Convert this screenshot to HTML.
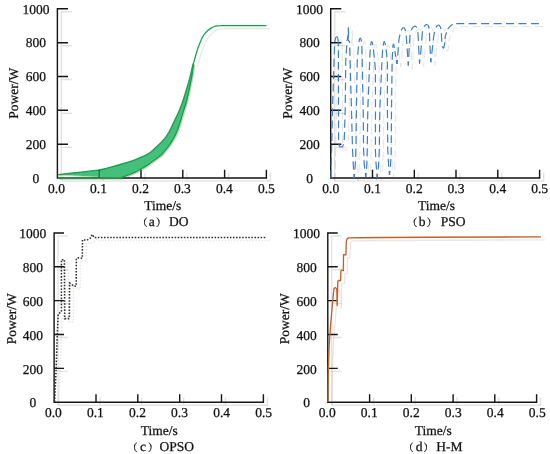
<!DOCTYPE html>
<html lang="zh">
<head>
<meta charset="utf-8">
<title>Power curves: DO, PSO, OPSO, H-M</title>
<style>
html,body{margin:0;padding:0;background:#fff;}
body{width:550px;height:454px;overflow:hidden;}
svg{display:block;}
svg text{font-family:"Liberation Serif", "Noto Serif CJK SC", serif;font-size:13.5px;fill:#111;text-rendering:geometricPrecision;stroke:#111;stroke-width:0.25px;}
</style>
</head>
<body>
<svg width="550" height="454" viewBox="0 0 550 454">
<defs>
<filter id="sh" x="-5%" y="-5%" width="112%" height="112%" filterUnits="objectBoundingBox">
<feGaussianBlur in="SourceAlpha" stdDeviation="0.45" result="b"/>
<feOffset in="b" dx="3.7" dy="2.6" result="o"/>
<feComponentTransfer in="o" result="s"><feFuncA type="linear" slope="0.14"/></feComponentTransfer>
<feFlood flood-color="#3c3834" result="c"/>
<feComposite in="c" in2="s" operator="in" result="sc"/>
<feMerge><feMergeNode in="sc"/><feMergeNode in="SourceGraphic"/></feMerge>
</filter>
<filter id="shc" x="-5%" y="-5%" width="112%" height="112%" filterUnits="objectBoundingBox">
<feGaussianBlur in="SourceAlpha" stdDeviation="0.5" result="b"/>
<feOffset in="b" dx="3.5" dy="3.1" result="o"/>
<feComponentTransfer in="o" result="s"><feFuncA type="linear" slope="0.13"/></feComponentTransfer>
<feFlood flood-color="#5a4838" result="c"/>
<feComposite in="c" in2="s" operator="in" result="sc"/>
<feMerge><feMergeNode in="sc"/><feMergeNode in="SourceGraphic"/></feMerge>
</filter>
<filter id="sh2" x="-5%" y="-5%" width="112%" height="112%" filterUnits="objectBoundingBox">
<feGaussianBlur in="SourceAlpha" stdDeviation="0.4" result="b"/>
<feOffset in="b" dx="1.3" dy="1" result="o"/>
<feComponentTransfer in="o" result="s"><feFuncA type="linear" slope="0.28"/></feComponentTransfer>
<feFlood flood-color="#7a3a3a" result="c"/>
<feComposite in="c" in2="s" operator="in" result="sc"/>
<feMerge><feMergeNode in="sc"/><feMergeNode in="SourceGraphic"/></feMerge>
</filter>
</defs>
<rect width="550" height="454" fill="#fff"/>
<g filter="url(#sh)"><path d="M68 8.8 H57.4 V178 H266.4 M57.4 144.2 h10.6 M57.4 110.3 h10.6 M57.4 76.5 h10.6 M57.4 42.7 h10.6 M99.2 178 v-8.2 M141 178 v-8.2 M182.8 178 v-8.2 M224.6 178 v-8.2 M266.4 178.7 v-8.9" fill="none" stroke="#121212" stroke-width="1.4"/></g>
<g filter="url(#shc)"><path d="M193.3 64.2 C193.8 62.3 195.4 56.4 196.4 53 C197.4 49.6 198.5 46.5 199.5 44 C200.5 41.5 201.3 39.5 202.2 37.8 C203.1 36.1 203.9 34.8 204.8 33.6 C205.8 32.4 206.9 31.4 207.9 30.5 C208.9 29.6 209.9 28.8 211 28.1 C212.1 27.4 213.4 26.9 214.5 26.5 C215.6 26.1 216.5 26 217.5 25.8 C218.5 25.6 219.4 25.6 220.5 25.6 C221.6 25.5 222.4 25.5 224 25.5 C225.6 25.5 222.9 25.5 230 25.5 C237.1 25.5 260.4 25.5 266.5 25.5" fill="none" stroke="#14a44b" stroke-width="1.25"/></g>
<g filter="url(#sh2)"><path d="M58.3 174.6 C60.8 174.3 67.7 173.6 73.2 173 C78.7 172.4 87 171.4 91.4 170.9 C95.8 170.4 97.2 170.3 99.5 170 C101.8 169.7 103.1 169.3 105 168.8 C106.9 168.3 108.2 168 111 167.2 C113.8 166.4 118.8 164.9 122 164 C125.2 163.1 127.6 162.4 130 161.6 C132.4 160.8 134.2 160.1 136.2 159.3 C138.1 158.5 139.8 157.8 141.7 157 C143.5 156.2 145.7 155.2 147.3 154.3 C148.9 153.4 150 152.7 151.5 151.5 C153 150.3 154.7 148.7 156.4 147.1 C158.1 145.5 160.3 143.3 161.9 141.7 C163.5 140 164.6 138.9 165.8 137.2 C167 135.5 168.2 133.5 169.3 131.5 C170.4 129.5 171.4 127.4 172.4 125.2 C173.4 123 174.5 120.8 175.6 118.6 C176.7 116.4 177.7 114.5 178.8 111.8 C179.9 109.1 181.2 106 182.4 102.4 C183.7 98.8 185.1 94.3 186.3 90.2 C187.6 86.1 188.9 81.4 189.9 77.7 C190.9 74 191.6 70.3 192.2 68 C192.8 65.7 193 64.7 193.2 64 L193.5 64.5 C193.4 65.2 193.3 66.4 193 68.5 C192.7 70.6 192.3 73.8 191.7 77.3 C191 80.8 190 85.6 189.1 89.8 C188.2 94 187.2 98.6 186.2 102.3 C185.2 106 183.9 109.5 183.1 112.2 C182.3 114.9 181.8 116.5 181.2 118.7 C180.5 120.9 179.9 123.1 179.2 125.2 C178.5 127.3 177.8 129.2 177 131.2 C176.2 133.2 175.4 135.1 174.3 137.2 C173.2 139.2 171.7 141.6 170.4 143.5 C169.1 145.4 167.9 147.2 166.5 148.9 C165.1 150.6 163.8 152.4 162.2 153.9 C160.6 155.4 158.7 156.9 157 158.2 C155.3 159.5 153.8 160.6 152.1 161.8 C150.4 163.1 148.5 164.5 146.7 165.7 C144.9 166.9 143.2 167.8 141.2 168.9 C139.2 170 136.6 171.5 134.7 172.4 C132.8 173.3 132.2 173.5 129.8 174.4 C127.4 175.3 121.6 177.4 120 178 Z" fill="#46bf7c" stroke="none"/><path d="M58.3 174.6 C60.8 174.3 67.7 173.6 73.2 173 C78.7 172.4 87 171.4 91.4 170.9 C95.8 170.4 97.2 170.3 99.5 170 C101.8 169.7 103.1 169.3 105 168.8 C106.9 168.3 108.2 168 111 167.2 C113.8 166.4 118.8 164.9 122 164 C125.2 163.1 127.6 162.4 130 161.6 C132.4 160.8 134.2 160.1 136.2 159.3 C138.1 158.5 139.8 157.8 141.7 157 C143.5 156.2 145.7 155.2 147.3 154.3 C148.9 153.4 150 152.7 151.5 151.5 C153 150.3 154.7 148.7 156.4 147.1 C158.1 145.5 160.3 143.3 161.9 141.7 C163.5 140 164.6 138.9 165.8 137.2 C167 135.5 168.2 133.5 169.3 131.5 C170.4 129.5 171.4 127.4 172.4 125.2 C173.4 123 174.5 120.8 175.6 118.6 C176.7 116.4 177.7 114.5 178.8 111.8 C179.9 109.1 181.2 106 182.4 102.4 C183.7 98.8 185.1 94.3 186.3 90.2 C187.6 86.1 188.9 81.4 189.9 77.7 C190.9 74 191.6 70.3 192.2 68 C192.8 65.7 193 64.7 193.2 64" fill="none" stroke="#14a44b" stroke-width="1.4" stroke-linecap="round"/><path d="M58.3 178 H120" fill="none" stroke="#14a44b" stroke-width="1.5" stroke-linecap="round"/><path d="M120 178 C121.6 177.4 127.4 175.3 129.8 174.4 C132.2 173.5 132.8 173.3 134.7 172.4 C136.6 171.5 139.2 170 141.2 168.9 C143.2 167.8 144.9 166.9 146.7 165.7 C148.5 164.5 150.4 163.1 152.1 161.8 C153.8 160.6 155.3 159.5 157 158.2 C158.7 156.9 160.6 155.4 162.2 153.9 C163.8 152.4 165.1 150.6 166.5 148.9 C167.9 147.2 169.1 145.4 170.4 143.5 C171.7 141.6 173.2 139.2 174.3 137.2 C175.4 135.1 176.2 133.2 177 131.2 C177.8 129.2 178.5 127.3 179.2 125.2 C179.9 123.1 180.5 120.9 181.2 118.7 C181.8 116.5 182.3 114.9 183.1 112.2 C183.9 109.5 185.2 106 186.2 102.3 C187.2 98.6 188.2 94 189.1 89.8 C190 85.6 191 80.8 191.7 77.3 C192.3 73.8 192.7 70.6 193 68.5 C193.3 66.4 193.4 65.2 193.5 64.5" fill="none" stroke="#14a44b" stroke-width="1.4" stroke-linecap="round"/><path d="M99.2 178 v-8" stroke="#15703a" stroke-width="1.2" fill="none"/></g>
<text x="35.9" y="182.6" text-anchor="middle">0</text>
<text x="35.9" y="148.8" text-anchor="middle">200</text>
<text x="35.9" y="114.9" text-anchor="middle">400</text>
<text x="35.9" y="81.1" text-anchor="middle">600</text>
<text x="35.9" y="47.3" text-anchor="middle">800</text>
<text x="35.9" y="13.5" text-anchor="middle">1000</text>
<text x="56.5" y="193" text-anchor="middle">0.0</text>
<text x="98.5" y="193" text-anchor="middle">0.1</text>
<text x="140.5" y="193" text-anchor="middle">0.2</text>
<text x="182.4" y="193" text-anchor="middle">0.3</text>
<text x="224.4" y="193" text-anchor="middle">0.4</text>
<text x="266.4" y="193" text-anchor="middle">0.5</text>
<text x="162.8" y="209.7" text-anchor="middle">Time/s</text>
<text transform="translate(17.8 93.2) rotate(-90)" text-anchor="middle" >Power/W</text>
<text y="225.5"><tspan x="147.4" text-anchor="end" font-size="10">（</tspan><tspan x="148.8">a</tspan><tspan x="156" font-size="10">）</tspan><tspan x="169">DO</tspan></text>
<g filter="url(#sh)"><path d="M341.3 8.8 H330.7 V178 H539.6 M330.7 144.2 h10.6 M330.7 110.3 h10.6 M330.7 76.5 h10.6 M330.7 42.7 h10.6 M372.5 178 v-8.2 M414.3 178 v-8.2 M456 178 v-8.2 M497.8 178 v-8.2 M539.6 178.7 v-8.9" fill="none" stroke="#121212" stroke-width="1.4"/></g><g filter="url(#shc)" fill="none" stroke="#3d80c4" stroke-width="1.2" stroke-linejoin="round"><polyline points="330.9,178 332.8,100 334.4,50 334.6,45.2 334.7,44.1 334.8,43 334.9,42.1 335,41.1 335.1,40.3 335.2,39.6 335.4,38.9 335.5,38.4 335.5,38.4 335.7,37.9 335.9,37.5 336.1,37.1 336.3,36.9" stroke-dasharray="8.1 4.26 8.09 4.26 8.09 4.26 8.09 4.26 8.09 4.26 8.09 4.26 8.09 4.26 8.09 4.26 8.09 4.26 8.09 4.26 8.09 4.26 5.5 999"/><polyline points="336.3,36.9 336.5,36.8 336.7,36.7 336.9,36.8 337.1,36.9 337.1,36.9 337.3,37.1 337.5,37.5 337.7,38.1 337.8,38.7 338,39.5 338.1,40.5 338.1,41.6 338.2,42.8 338.4,48 338.5,100 338.6,143 339,144.7 339,145 339.2,145.4 339.3,145.7 339.4,146 339.6,146.2 339.8,146.4 339.9,146.6 340.1,146.8 340.1,146.8 340.4,146.8 340.6,146.9 340.8,147 341,147" stroke-dasharray="10.5 4.04 7.67 4.04 7.67 4.04 7.67 4.04 7.67 4.04 7.67 4.04 7.67 4.04 7.67 4.04 7.67 4.04 4.06 999"/><polyline points="341,147 341.2,147 341.5,146.9 341.7,146.8 341.9,146.8 341.9,146.8 342.1,146.6 342.3,146.4 342.5,146.2 342.8,145.9 342.9,145.5 343.1,145.1 343.3,144.7 343.5,144.2 344.2,142 345.2,110 345.8,60 347,41 348.4,34 348.4,27.6" stroke-dasharray="4.06 4.27 8.11 4.27 8.11 4.27 8.11 4.27 8.11 4.27 8.11 4.27 8.11 4.27 8.11 4.27 8.11 4.27 13.5 999"/><polyline points="348.4,27.6 348.6,34 348,39.6 349.5,41.8 350.1,60 351.5,110 352.4,146 353.1,162 354.2,178" stroke-dasharray="16 4.37 8.29 4.37 8.29 4.37 8.29 4.37 8.29 4.37 8.29 4.37 8.29 4.37 8.29 4.37 8.29 4.37 8.29 4.37 8.29 4.37 4.06 999"/><polyline points="354.2,178 355.4,163 356,146 356.4,110 357.2,62 357.9,53 358.1,50.8 358.3,48.8 358.4,47 358.6,45.3 358.8,43.8 359,42.5 359.1,41.3 359.3,40.3 359.3,40.3 359.5,39.5 359.7,38.8 359.8,38.4 360,38.1" stroke-dasharray="4.06 4.4 8.36 4.4 8.36 4.4 8.36 4.4 8.36 4.4 8.36 4.4 8.36 4.4 8.36 4.4 8.36 4.4 8.36 4.4 8.36 4.4 4.06 999"/><polyline points="360,38.1 360.2,38.1 360.4,38.2 360.6,38.5 360.9,39 360.9,39 361.1,39.8 361.2,40.7 361.4,41.8 361.6,43.2 361.7,44.8 361.8,46.5 361.9,48.5 361.9,50.8 362.2,60 363.2,110 363.6,150 364.2,164 365.8,177" stroke-dasharray="4.06 4.38 8.32 4.38 8.32 4.38 8.32 4.38 8.32 4.38 8.32 4.38 8.32 4.38 8.32 4.38 8.32 4.38 8.32 4.38 8.32 4.38 4.06 999"/><polyline points="365.8,177 366.8,165 367.2,150 367.8,110 369.8,58 370.1,52 370.2,50.5 370.3,49.2 370.4,47.9 370.5,46.8 370.6,45.7 370.8,44.7 370.9,43.8 371,43 371,43 371.1,42.3 371.3,41.8 371.4,41.5 371.6,41.4" stroke-dasharray="4.06 4.26 8.09 4.26 8.09 4.26 8.09 4.26 8.09 4.26 8.09 4.26 8.09 4.26 8.09 4.26 8.09 4.26 8.09 4.26 8.09 4.26 4.06 999"/><polyline points="371.6,41.4 371.7,41.4 371.9,41.6 372,42 372.2,42.5 372.2,42.5 372.4,43.2 372.6,44 372.7,44.9 372.9,46 373.1,47.2 373.3,48.5 373.5,49.9 373.6,51.5 374.4,58 375.4,70 375.5,110 375.4,150 376,163 377.2,177.8" stroke-dasharray="4.06 4.3 8.16 4.3 8.16 4.3 8.16 4.3 8.16 4.3 8.16 4.3 8.16 4.3 8.16 4.3 8.16 4.3 8.16 4.3 8.16 4.3 4.06 999"/><polyline points="377.2,177.8 378.5,166 379.3,150 379.8,110 382,60 382.4,53.5 382.5,51.9 382.6,50.4 382.7,49.1 382.9,47.8 383,46.6 383.2,45.5 383.3,44.5 383.5,43.6 383.5,43.6 383.7,42.8 383.8,42.2 384,41.8 384.2,41.6" stroke-dasharray="4.06 4.28 8.13 4.28 8.13 4.28 8.13 4.28 8.13 4.28 8.13 4.28 8.13 4.28 8.13 4.28 8.13 4.28 8.13 4.28 8.13 4.28 4.06 999"/><polyline points="384.2,41.6 384.3,41.5 384.5,41.6 384.6,41.9 384.8,42.4 384.8,42.4 384.9,42.9 385.1,43.6 385.2,44.3 385.4,45 385.6,45.9 385.7,46.8 385.9,47.7 386,48.8 386.6,53 387.4,64 387.4,110 387.8,150 388.7,166 389.5,175" stroke-dasharray="4.06 4.2 7.97 4.2 7.97 4.2 7.97 4.2 7.97 4.2 7.97 4.2 7.97 4.2 7.97 4.2 7.97 4.2 7.97 4.2 7.97 4.2 4.06 999"/><polyline points="389.5,175 390.5,166 391.2,152 391.5,110 392.2,60 392.8,47 393.1,44.8 393.2,44.3 393.3,44.1 393.4,44 393.6,44.1" stroke-dasharray="4.06 4.11 7.8 4.11 7.8 4.11 7.8 4.11 7.8 4.11 7.8 4.11 7.8 4.11 7.8 4.11 7.8 4.11 7.8 4.11 7.8 4.11 4.06 999"/><polyline points="393.6,44.1 393.7,44.4 393.8,44.8 393.9,45.5 394.1,46.3 394.6,50 397,64" stroke-dasharray="4.06 3.11 5.9 3.11 4.06 999"/><polyline points="397,64 398.2,50 398.9,40 399.8,35.3 400,34.2 400.2,33.1 400.5,32.1 400.8,31.2 401.1,30.4 401.5,29.7 401.9,29.1 402.3,28.5 402.3,28.5 402.7,28 403.1,27.7 403.5,27.6 403.8,27.6" stroke-dasharray="4.06 4.4 8.35 4.4 8.35 4.4 4.06 999"/><polyline points="403.8,27.6 404.1,27.7 404.4,28 404.7,28.4 404.9,29 404.9,29 405.2,29.7 405.4,30.6 405.6,31.5 405.8,32.6 406,33.9 406.1,35.2 406.3,36.7 406.4,38.3 406.9,45 408.3,65.5" stroke-dasharray="4.06 4.48 8.51 4.48 8.51 4.48 4.06 999"/><polyline points="408.3,65.5 409.5,42 409.9,36.8 410,35.5 410.2,34.4 410.4,33.3 410.6,32.2 410.9,31.3 411.2,30.5 411.5,29.7 411.9,29 411.9,29 412.3,28.4 412.7,27.8 413.1,27.4 413.5,27" stroke-dasharray="4.06 4.6 8.74 4.6 8.74 4.6 4.06 999"/><polyline points="413.5,27 413.8,26.7 414.2,26.4 414.6,26.3 414.9,26.2 414.9,26.2 415.3,26.2 415.6,26.3 415.9,26.5 416.2,26.8 416.5,27.1 416.8,27.6 417,28.1 417.2,28.8 417.2,28.8 417.4,29.6 417.6,30.5 417.7,31.6 417.9,32.8 418,34.2 418.1,35.7 418.2,37.4 418.3,39.2 418.6,46.9 419.5,63.6" stroke-dasharray="4.06 4.74 9 4.74 9 4.74 4.06 999"/><polyline points="419.5,63.6 420.8,52 421.9,38 422.2,34.1 422.3,33.2 422.4,32.3 422.5,31.5 422.7,30.6 422.8,29.9 423,29.2 423.3,28.5 423.5,27.9 423.5,27.9 423.8,27.3 424,26.7 424.3,26.3 424.6,25.9 424.9,25.5 425.3,25.2 425.6,25 426,24.8 426,24.8 426.4,24.7 426.7,24.6 427,24.7 427.4,24.8" stroke-dasharray="4.06 4.91 9.31 4.91 9.31 4.91 4.06 999"/><polyline points="427.4,24.8 427.6,24.9 427.9,25.2 428.2,25.5 428.4,25.9 428.4,25.9 428.6,26.3 428.8,27 429,27.8 429.1,28.7 429.3,29.8 429.4,31.1 429.4,32.5 429.5,34 429.7,40.5 430.8,62.3" stroke-dasharray="4.06 4.42 8.38 4.42 8.38 4.42 4.06 999"/><polyline points="430.8,62.3 432.7,45.7 433.4,38.7 433.6,37 433.9,35.4 434.1,34 434.3,32.7 434.5,31.5 434.8,30.5 435.1,29.6 435.4,28.9 435.4,28.9 435.6,28.2 435.9,27.6 436.2,27.1 436.5,26.6 436.8,26.2 437.1,25.9 437.4,25.6 437.8,25.4 437.8,25.4 438.1,25.2 438.4,25.1 438.7,25.2 439,25.3" stroke-dasharray="4.06 4.6 8.73 4.6 8.73 4.6 4.06 999"/><polyline points="439,25.3 439.3,25.5 439.5,25.7 439.8,26.1 440.1,26.6 440.1,26.6 440.4,27.1 440.6,27.8 440.8,28.6 441,29.5 441.1,30.6 441.3,31.8 441.4,33.1 441.4,34.5 441.7,40.5 442.2,44.5 442.4,45.4 442.5,46.2 442.7,46.8 442.8,47.3 443,47.7 443.2,48 443.3,48.1 443.5,48 443.5,48 443.7,47.9 443.8,47.6 444,47.1 444.2,46.4" stroke-dasharray="4.06 4.5 8.54 4.5 4.06 999"/><polyline points="444.2,46.4 444.3,45.6 444.4,44.6 444.6,43.5 444.7,42.2 445.2,36.7 446.3,32.9 446.6,32 446.9,31.1 447.3,30.3 447.7,29.5 448.1,28.7 448.6,28 449.1,27.4 449.6,26.8 449.6,26.8 450.2,26.2 450.8,25.7 451.3,25.3 451.9,24.9 452.4,24.6 453,24.3 453.5,24.1 454,24 456.2,23.6" stroke-dasharray="4.06 3.56 6.76 3.56 6.76 3.56 0 999"/><polyline points="456.2,23.6 539.4,23.6" stroke-dasharray="8 4.46"/></g>
<text x="309.5" y="182.6" text-anchor="middle">0</text>
<text x="309.5" y="148.8" text-anchor="middle">200</text>
<text x="309.5" y="114.9" text-anchor="middle">400</text>
<text x="309.5" y="81.1" text-anchor="middle">600</text>
<text x="309.5" y="47.3" text-anchor="middle">800</text>
<text x="309.5" y="13.5" text-anchor="middle">1000</text>
<text x="330.7" y="192.7" text-anchor="middle">0.0</text>
<text x="372.5" y="192.7" text-anchor="middle">0.1</text>
<text x="414.3" y="192.7" text-anchor="middle">0.2</text>
<text x="456" y="192.7" text-anchor="middle">0.3</text>
<text x="497.8" y="192.7" text-anchor="middle">0.4</text>
<text x="539.6" y="192.7" text-anchor="middle">0.5</text>
<text x="436.6" y="209.7" text-anchor="middle">Time/s</text>
<text transform="translate(291.8 93.2) rotate(-90)" text-anchor="middle" >Power/W</text>
<text y="225.7"><tspan x="417.2" text-anchor="end" font-size="10">（</tspan><tspan x="418.8">b</tspan><tspan x="426.7" font-size="10">）</tspan><tspan x="440.8">PSO</tspan></text>
<g filter="url(#sh)"><path d="M64 233 H54.1 V402.2 H263.4 M54.1 368.4 h9.9 M54.1 334.5 h9.9 M54.1 300.6 h9.9 M54.1 266.8 h9.9 M96 402.2 v-8 M137.8 402.2 v-8 M179.7 402.2 v-8 M221.5 402.2 v-8 M263.4 402.9 v-8.7" fill="none" stroke="#121212" stroke-width="1.4"/></g><g filter="url(#shc)"><polyline points="54.6,402 56.1,370 57.1,340 58.1,314.4 61.4,311.4 61.4,259.7 64.4,259.7 64.7,318.6 69.3,318.6 69.6,283 74,286.2 76.2,286 76.3,259.4 77.3,257.7 82.3,258.2 82.5,239.8 86.8,240.2 90,238.5 92.1,234.5 94.1,237.5 266,237.6" fill="none" stroke="#2e2e2e" stroke-width="1.55" stroke-dasharray="1.55 1.52"/></g>
<text x="32.8" y="407.4" text-anchor="middle">0</text>
<text x="32.8" y="373.6" text-anchor="middle">200</text>
<text x="32.8" y="339.7" text-anchor="middle">400</text>
<text x="32.8" y="305.8" text-anchor="middle">600</text>
<text x="32.8" y="272" text-anchor="middle">800</text>
<text x="32.8" y="238.1" text-anchor="middle">1000</text>
<text x="53.4" y="417.2" text-anchor="middle">0.0</text>
<text x="95.4" y="417.2" text-anchor="middle">0.1</text>
<text x="137.5" y="417.2" text-anchor="middle">0.2</text>
<text x="179.5" y="417.2" text-anchor="middle">0.3</text>
<text x="221.6" y="417.2" text-anchor="middle">0.4</text>
<text x="263.6" y="417.2" text-anchor="middle">0.5</text>
<text x="159.3" y="435" text-anchor="middle">Time/s</text>
<text transform="translate(15.6 318.8) rotate(-90)" text-anchor="middle" >Power/W</text>
<text y="451.1"><tspan x="137.5" text-anchor="end" font-size="10">（</tspan><tspan x="139.9">c</tspan><tspan x="147.9" font-size="10">）</tspan><tspan x="159.4">OPSO</tspan></text>
<g filter="url(#sh)"><path d="M337.7 233 H327.8 V402.2 H536.6 M327.8 368.4 h9.9 M327.8 334.5 h9.9 M327.8 300.6 h9.9 M327.8 266.8 h9.9 M369.6 402.2 v-8 M411.3 402.2 v-8 M453.1 402.2 v-8 M494.8 402.2 v-8 M536.6 402.9 v-8.7" fill="none" stroke="#121212" stroke-width="1.4"/></g><g filter="url(#shc)"><path d="M328 402 L328.3 372 L329.1 347 L330.3 329 L332.4 304 L333.9 289 L334.2 288.3 Q334.6 287.6 335.3 287.6 L335.3 287.6 Q336 287.6 336.4 288.8 L336.8 290 L337.2 304.4 Q337.3 306.9 337.3 304.4 L337.6 290 L337.8 281.4 L338.4 280.3 L340.6 280.7 L340.9 271.4 L341.4 270.1 L343.4 270.7 L343.5 254.6 L345.9 254.9 L346.1 247.8 Q346.2 243 346.4 241.2 L346.5 240.8 Q346.8 238.6 348.3 238 L348.6 237.9 Q349.8 237.4 426.3 237.2 L541 236.9" fill="none" stroke="#c4602a" stroke-width="1.35" stroke-linejoin="round"/></g>
<text x="306.5" y="407.4" text-anchor="middle">0</text>
<text x="306.5" y="373.5" text-anchor="middle">200</text>
<text x="306.5" y="339.6" text-anchor="middle">400</text>
<text x="306.5" y="305.7" text-anchor="middle">600</text>
<text x="306.5" y="271.9" text-anchor="middle">800</text>
<text x="306.5" y="238" text-anchor="middle">1000</text>
<text x="327.3" y="417.2" text-anchor="middle">0.0</text>
<text x="369.3" y="417.2" text-anchor="middle">0.1</text>
<text x="411.3" y="417.2" text-anchor="middle">0.2</text>
<text x="453.3" y="417.2" text-anchor="middle">0.3</text>
<text x="495.3" y="417.2" text-anchor="middle">0.4</text>
<text x="537.2" y="417.2" text-anchor="middle">0.5</text>
<text x="433.2" y="435.1" text-anchor="middle">Time/s</text>
<text transform="translate(289.3 318.8) rotate(-90)" text-anchor="middle" >Power/W</text>
<text y="451.2"><tspan x="413.4" text-anchor="end" font-size="10">（</tspan><tspan x="415.8">d</tspan><tspan x="423.4" font-size="10">）</tspan><tspan x="436.2">H-M</tspan></text>
</svg>
</body>
</html>
